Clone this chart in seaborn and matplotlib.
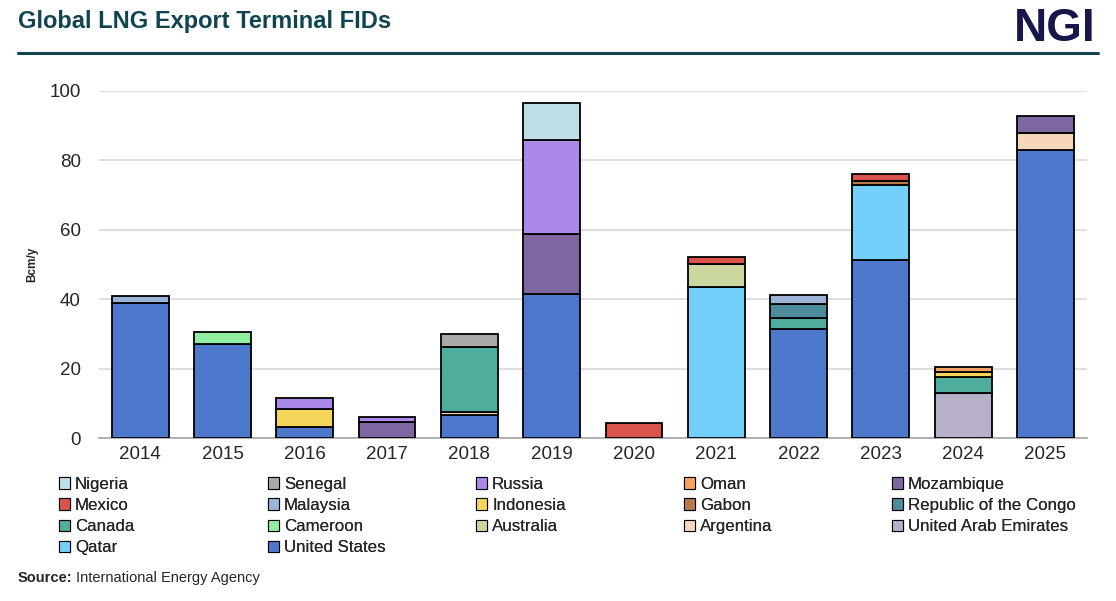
import numpy as np
import pandas as pd
import matplotlib
matplotlib.use("Agg")
import matplotlib.pyplot as plt
from matplotlib.patches import Patch
import seaborn as sns

# ---- data (Bcm/y) ----
years = ["2014", "2015", "2016", "2017", "2018", "2019",
         "2020", "2021", "2022", "2023", "2024", "2025"]

united_states = [39.0, 27.2, 3.3, 0, 6.6, 41.4, 0, 0, 31.5, 51.3, 0, 83.0]
qatar         = [0, 0, 0, 0, 0, 0, 0, 43.4, 0, 21.6, 0, 0]
uae           = [0, 0, 0, 0, 0, 0, 0, 0, 0, 0, 13.1, 0]
argentina     = [0, 0, 0, 0, 0.8, 0, 0, 0, 0, 0, 0, 4.8]
australia     = [0, 0, 0, 0, 0, 0, 0, 6.8, 0, 0, 0, 0]
cameroon      = [0, 3.3, 0, 0, 0, 0, 0, 0, 0, 0, 0, 0]
canada        = [0, 0, 0, 0, 18.9, 0, 0, 0, 3.0, 0, 4.4, 0]
congo         = [0, 0, 0, 0, 0, 0, 0, 0, 4.1, 0, 0, 0]
gabon         = [0, 0, 0, 0, 0, 0, 0, 0, 0, 1.2, 0, 0]
indonesia     = [0, 0, 5.2, 0, 0, 0, 0, 0, 0, 0, 1.6, 0]
malaysia      = [2.0, 0, 0, 0, 0, 0, 0, 0, 2.7, 0, 0, 0]
mexico        = [0, 0, 0, 0, 0, 0, 4.4, 1.9, 0, 1.9, 0, 0]
mozambique    = [0, 0, 0, 4.6, 0, 17.4, 0, 0, 0, 0, 0, 5.0]
oman          = [0, 0, 0, 0, 0, 0, 0, 0, 0, 0, 1.4, 0]
russia        = [0, 0, 3.0, 1.4, 0, 26.9, 0, 0, 0, 0, 0, 0]
senegal       = [0, 0, 0, 0, 3.6, 0, 0, 0, 0, 0, 0, 0]
nigeria       = [0, 0, 0, 0, 0, 10.9, 0, 0, 0, 0, 0, 0]

# stacking order, bottom to top
countries = ["United States", "Qatar", "United Arab Emirates", "Argentina",
             "Australia", "Cameroon", "Canada", "Republic of the Congo",
             "Gabon", "Indonesia", "Malaysia", "Mexico", "Mozambique",
             "Oman", "Russia", "Senegal", "Nigeria"]
series = [united_states, qatar, uae, argentina, australia, cameroon, canada,
          congo, gabon, indonesia, malaysia, mexico, mozambique, oman,
          russia, senegal, nigeria]
colors = ["#4e78cc", "#74d0fb", "#b8b0c8", "#f6d6bd", "#cad79f", "#92eea0",
          "#4fad9d", "#4e8b9b", "#b87a4c", "#f5d55a", "#9db3d8", "#d9554c",
          "#7e66a0", "#f2a263", "#ab89e8", "#a9a9a9", "#bfdfe6"]

# legend columns (the reference reads row-wise across 5 fixed-width columns)
legend_cols = [
    ["Nigeria", "Mexico", "Canada", "Qatar"],
    ["Senegal", "Malaysia", "Cameroon", "United States"],
    ["Russia", "Indonesia", "Australia"],
    ["Oman", "Gabon", "Argentina"],
    ["Mozambique", "Republic of the Congo", "United Arab Emirates"],
]

# ---- figure ----
sns.set_style("white")
plt.rcParams["font.family"] = ["Liberation Sans", "DejaVu Sans"]

fig = plt.figure(figsize=(11.16, 6.01), dpi=100)
ax = fig.add_axes([0.0887, 0.271, 0.885, 0.578])

bottom = np.zeros(len(years))
for name, vals, col in zip(countries, series, colors):
    vals = np.array(vals, dtype=float)
    mask = vals > 0
    if mask.any():
        df = pd.DataFrame({"year": np.array(years)[mask], "value": vals[mask]})
        sns.barplot(data=df, x="year", y="value", order=years, color=col,
                    saturation=1, width=0.69, bottom=bottom[mask],
                    edgecolor="black", linewidth=1.3, ax=ax, zorder=3)
    bottom += vals

ax.set_ylim(0, 100)
ax.set_xlim(-0.5, len(years) - 0.5)
ax.set_yticks([0, 20, 40, 60, 80, 100])
ax.yaxis.grid(True, color="#d9d9d9", linewidth=1.2, zorder=0)
ax.set_axisbelow(True)
for s in ["top", "right", "left"]:
    ax.spines[s].set_visible(False)
ax.spines["bottom"].set_color("#a6a6a6")
ax.spines["bottom"].set_linewidth(1.2)
ax.tick_params(axis="y", length=0, labelsize=13.5, pad=13)
ax.tick_params(axis="x", length=0, labelsize=13.5, pad=6)
ax.set_xlabel("")
ax.set_ylabel("Bcm/y", fontsize=8.5, fontweight="bold")
ax.yaxis.set_label_coords(-0.062, 0.5)

# legend, one fixed-position column at a time
handles = {n: Patch(facecolor=c, edgecolor="black", linewidth=0.8)
           for n, c in zip(countries, colors)}
col_x = [59, 268, 476, 684, 892]
for x0, names in zip(col_x, legend_cols):
    leg = fig.legend([handles[n] for n in names], names, ncol=1,
                     loc="upper left", bbox_to_anchor=(x0 / 1116, 1 - 477 / 601),
                     frameon=False, fontsize=12.2, handlelength=0.65,
                     handleheight=0.65, handletextpad=0.3, labelspacing=0.36,
                     borderaxespad=0, borderpad=0)
    fig.add_artist(leg)

# header / footer
fig.text(0.016, 0.965, "Global LNG Export Terminal FIDs", fontsize=17,
         fontweight="bold", color="#0f4450", va="center", ha="left")
fig.text(0.982, 0.951, "NGI", fontsize=33, fontweight="bold",
         color="#17174a", va="center", ha="right")
fig.add_artist(plt.Line2D([0.016, 0.984], [0.912, 0.912],
                          color="#0f4450", linewidth=2.2))
src = fig.text(0.016, 0.038, "Source:", fontsize=10.5, fontweight="bold",
               va="center", ha="left")
fig.canvas.draw()
bb = src.get_window_extent()
fig.text((bb.x1 + 4) / 1116, 0.038, "International Energy Agency",
         fontsize=10.5, va="center", ha="left")

fig.savefig("out.png", dpi=100)
